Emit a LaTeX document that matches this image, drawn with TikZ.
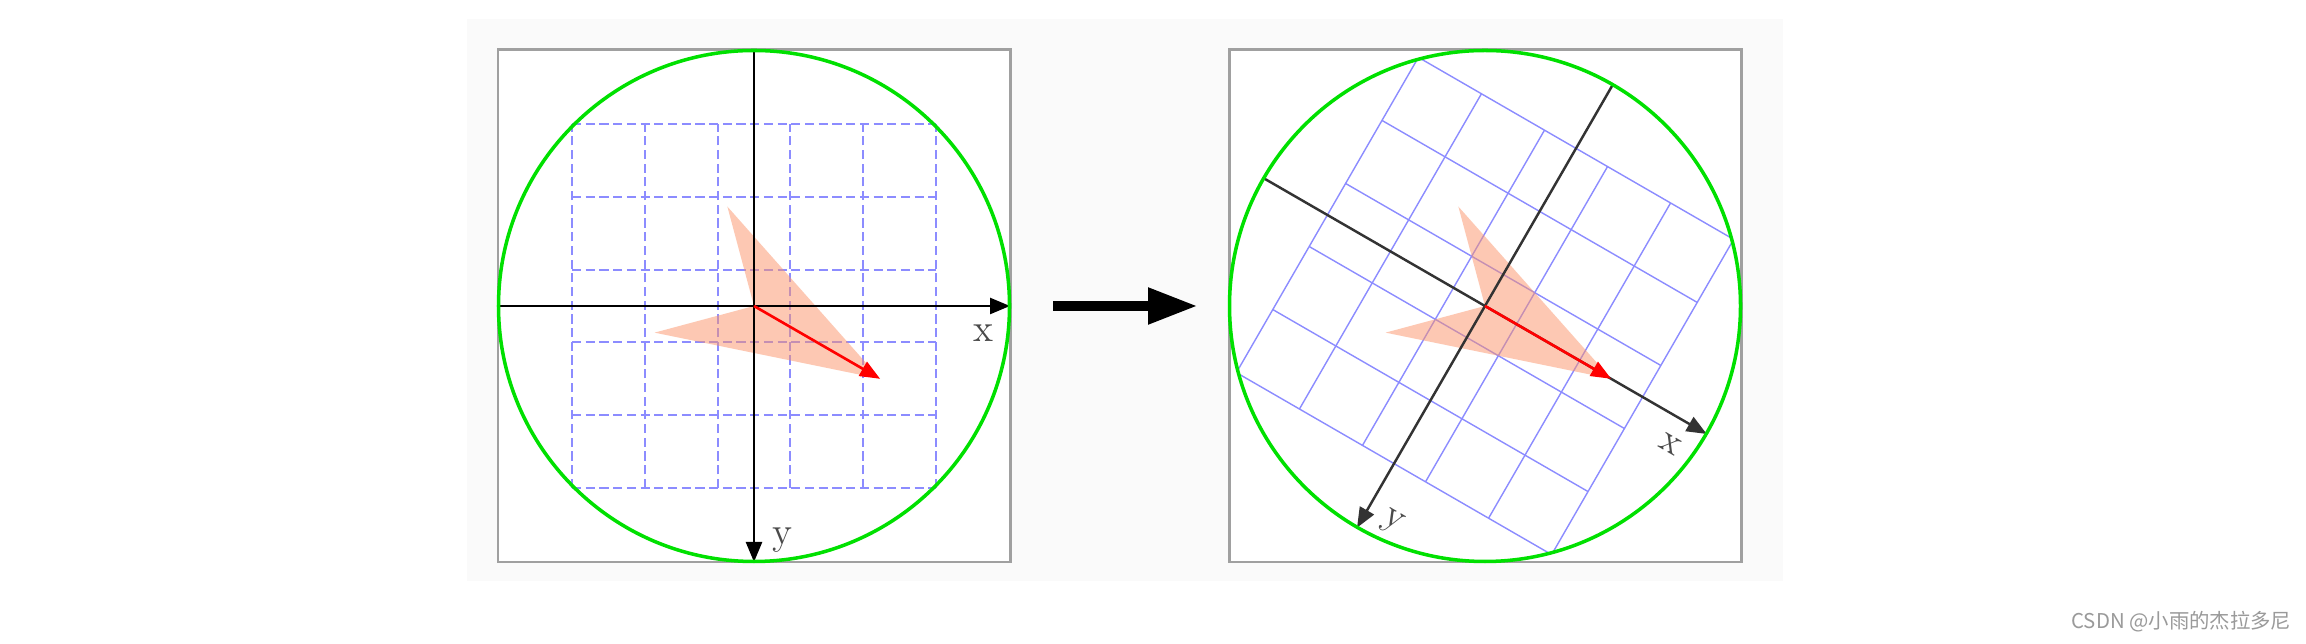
\documentclass[tikz,border=0pt]{standalone}
\usepackage{fontspec}
\newfontfamily\cjkfont{Noto Sans CJK SC}
\usetikzlibrary{arrows.meta, calc}
\definecolor{cBg}{HTML}{FAFAFA}
\definecolor{cBox}{HTML}{A0A0A0}
\definecolor{cRing}{HTML}{00E000}
\definecolor{cGrid}{HTML}{8C8CFF}
\definecolor{cDart}{HTML}{FC9268}
\definecolor{cVec}{HTML}{FF0000}
\definecolor{cLab}{HTML}{4A4A4A}
\definecolor{cWm}{HTML}{9A9A9A}

\begin{document}
\begin{tikzpicture}[
    panel/.style={draw=cBox, fill=white, line width=0.85pt, minimum size=51.2mm,
                  inner sep=0pt, outer sep=0pt},
    ring/.style={draw=cRing, line width=1pt},
    gridL/.style={cGrid, line width=0.55pt, dash pattern=on 2.6pt off 1.3pt},
    gridR/.style={cGrid, line width=0.4pt},
    ax/.style={-{Triangle[length=2mm,width=1.6mm]}, line width=0.7pt},
    vec/.style={cVec, -{Triangle[length=2mm,width=1.6mm]}, line width=0.75pt},
    dart/.style={fill=cDart, fill opacity=0.5},
    lab/.style={font=\fontsize{11}{13}\selectfont, text=cLab, inner sep=0pt},
    ar/.style={-{Triangle[length=5mm,width=3.4mm]}, line width=3.1pt},
]
\fill[white] (0,0) rectangle (23.06,6.44);
\useasboundingbox (0,0) rectangle (23.06,6.44);
\fill[cBg] (4.67,0.63) rectangle (17.83,6.25);

\coordinate (cL) at (7.54,3.38);
\coordinate (cR) at (14.85,3.38);

% === LEFT: original frame ===
\node[panel] (boxL) at (cL) {};
\begin{scope}[shift={(cL)}]
    \begin{scope}[scale=0.728]
        \foreach \k in {-2.5,-1.5,...,2.5} {
            \draw[gridL] (\k,-2.5) -- (\k,2.5);
            \draw[gridL] (-2.5,\k) -- (2.5,\k);
        }
    \end{scope}
    \begin{scope}[rotate=-30, scale=0.728]
        \fill[dart] (0,0) -- (-1,1) -- (2,0) -- (-1,-1) -- cycle;
    \end{scope}
    \draw[ax] (-2.56,0) -- (2.56,0);
    \draw[ax] (0,2.56) -- (0,-2.56);
    \draw[vec] (0,0) -- (-30:1.456);
    \draw[ring] (0,0) circle[radius=2.555];
    \node[lab] (xL) at (2.29,-0.27) {x};
    \node[lab] (yL) at (0.28,-2.34) {y};
\end{scope}

% === RIGHT: frame turned onto the vector ===
\node[panel] (boxR) at (cR) {};
\begin{scope}[shift={(cR)}]
    \begin{scope}
        \clip (0,0) circle[radius=2.555];
        \begin{scope}[rotate=-30, scale=0.728]
            \foreach \k in {-2.5,-1.5,...,2.5} {
                \draw[gridR] (\k,-2.5) -- (\k,2.5);
                \draw[gridR] (-2.5,\k) -- (2.5,\k);
            }
        \end{scope}
    \end{scope}
    \begin{scope}[rotate=-30, scale=0.728]
        \fill[dart] (0,0) -- (-1,1) -- (2,0) -- (-1,-1) -- cycle;
    \end{scope}
    \begin{scope}[rotate=-30]
        \draw[ax, black!80] (-2.56,0) -- (2.56,0);
        \draw[ax, black!80] (0,2.56) -- (0,-2.56);
        \node[lab, rotate=-30] (xR) at (2.29,-0.27) {x};
        \node[lab, rotate=-30] (yR) at (0.28,-2.34) {y};
    \end{scope}
    \draw[vec] (0,0) -- (-30:1.456);
    \draw[ring] (0,0) circle[radius=2.555];
\end{scope}

% === ARROW between the panels ===
\draw[ar] ([xshift=4.3mm]boxL.east) -- ([xshift=-3.1mm]boxR.west);

\node[anchor=east, text=cWm, font=\cjkfont\fontsize{5.8}{7}\selectfont, inner sep=0pt]
    (wm) at (22.92,0.22) {CSDN @小雨的杰拉多尼};

\end{tikzpicture}
\end{document}
